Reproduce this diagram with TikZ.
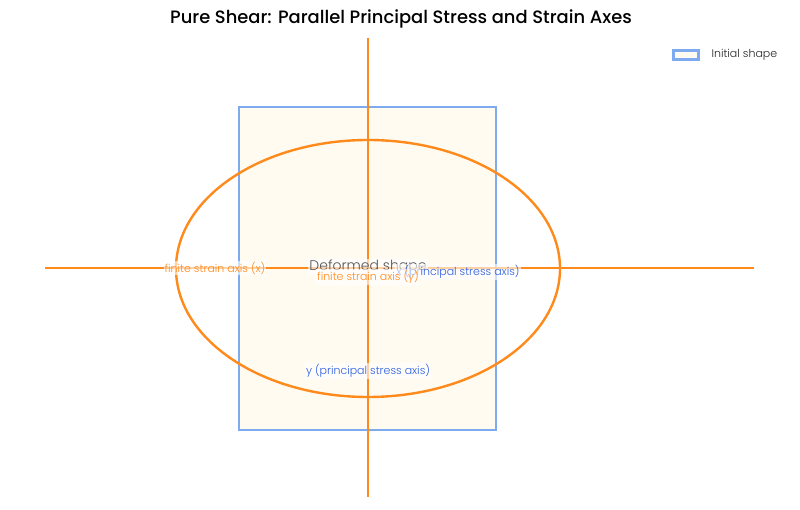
\documentclass[tikz,border=0pt]{standalone}
\usepackage{fontspec}
\setmainfont{Poppins}
\IfFontExistsTF{Poppins Medium}{\newfontfamily\titlefont{Poppins Medium}}{\newfontfamily\titlefont{Poppins}[FakeBold=1.5]}
\IfFontExistsTF{Poppins Light}{\newfontfamily\lightfont{Poppins Light}}{\newfontfamily\lightfont{Poppins}}
\definecolor{axorange}{HTML}{FF8A1C}
\definecolor{rectblue}{HTML}{7EABF0}
\definecolor{txtblue}{HTML}{2F5FE0}
\definecolor{cream}{HTML}{FFFBF1}
\definecolor{defgray}{HTML}{555555}
\begin{document}
\begin{tikzpicture}[x=1pt,y=-1pt,
  axisline/.style={draw=axorange,line width=2.8pt},
  lbl/.style={fill=white,fill opacity=0.6,text opacity=1,inner sep=1pt,font=\lightfont\fontsize{11}{13}\selectfont},
  orangelbl/.style={lbl,text=axorange},
  bluelbl/.style={lbl,text=txtblue}]
\useasboundingbox (0,0) rectangle (800,510);
\node[font=\titlefont\fontsize{17.9}{21}\selectfont] (title) at (401,19) {Pure Shear: Parallel Principal Stress and Strain Axes};
% initial shape
\node[draw=rectblue,fill=cream,line width=2.8pt,minimum width=257pt,minimum height=323pt,inner sep=0pt] (rect) at (367.5,268.5) {};
% ellipse
\draw[axorange,line width=2.4pt] (368,268.5) ellipse [x radius=192, y radius=128.5];
% axes
\coordinate (xl) at (45,268);
\coordinate (xr) at (754,268);
\coordinate (yt) at (368,38);
\coordinate (yb) at (368,497);
\draw[axisline] (xl) -- (xr);
\draw[axisline] (yt) -- (yb);
% labels
\node[orangelbl] (fx) at (215,268) {finite strain axis (x)};
\node[lbl,text=defgray,font=\lightfont\fontsize{14}{16}\selectfont] (def) at (368,267) {Deformed shape};
\node[bluelbl] (px) at (458,272) {x (principal stress axis)};
\node[orangelbl] (fy) at (368,277) {finite strain axis (y)};
\node[bluelbl] (py) at (368,371) {y (principal stress axis)};
% legend
\node[draw=rectblue,fill=cream,line width=2.4pt,minimum width=25pt,minimum height=9pt,inner sep=0pt] (legbox) at (686,55) {};
\node[anchor=west,font=\lightfont\fontsize{11}{13}\selectfont,text=black!85] (legtxt) at (708,55) {Initial shape};
\end{tikzpicture}
\end{document}
